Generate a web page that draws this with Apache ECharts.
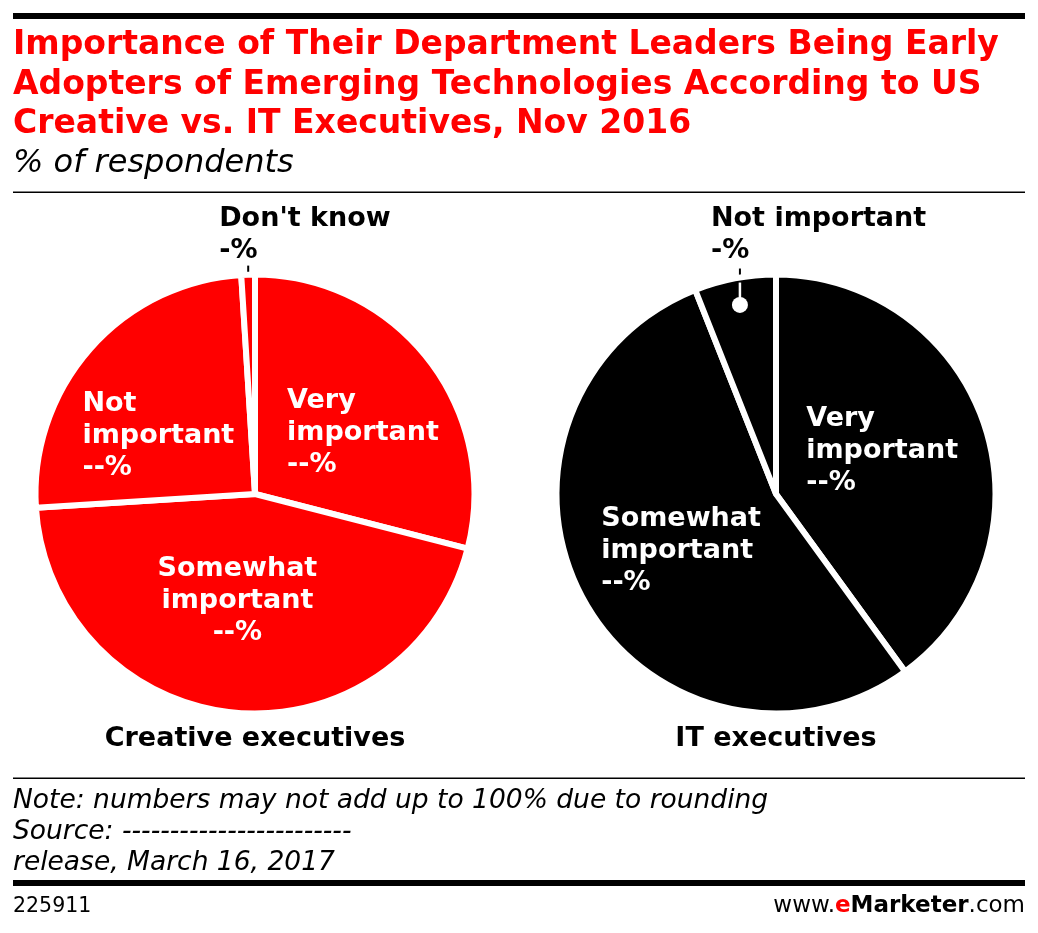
<!DOCTYPE html>
<html><head><meta charset="utf-8">
<script src="https://cdn.jsdelivr.net/npm/echarts@6/dist/echarts.min.js"></script>
<style>html,body{margin:0;padding:0;background:#fff}#c{width:1038px;height:933px}</style>
</head><body><div id="c"></div>
<script>
// ---- data ----
const categoriesCreative = ['Very important', 'Somewhat important', 'Not important', "Don't know"];
const valuesCreative = [29, 45, 25, 1];
const pctCreative = ['--%', '--%', '--%', '-%'];
const categoriesIT = ['Very important', 'Somewhat important', 'Not important'];
const valuesIT = [40, 54, 6];
const pctIT = ['--%', '--%', '-%'];
const seriesNames = ['Creative executives', 'IT executives'];
const titleLines = ['Importance of Their Department Leaders Being Early', 'Adopters of Emerging Technologies According to US', 'Creative vs. IT Executives, Nov 2016'];
const subtitleText = '% of respondents';
const noteLines = ['Note: numbers may not add up to 100% due to rounding', 'Source: ------------------------', 'release, March 16, 2017'];
const chartId = '225911';

// ---- layout / style ----
const RED = '#ff0000';
const CX = [255, 776], CY = 494, R = 219.5, VIS_R = R - 3;
const SMALL = 10; // slices below this value get an outside label
const hasDot = [false, true];
const outsideTweak = [[4, -43], [1, -46]]; // [leader start shift, label y shift] per pie
const insideOffsets = [
  [[-57, 8, 'left'], [-7, -5, 'center'], [-88, 17, 'left']],
  [[-77, -8, 'left'], [-76, 3, 'left']]
];
const LBL_FONT = 'DejaVu Sans';

function midAngle(vals, i) {
  const tot = vals.reduce((a, b) => a + b, 0);
  let s = 0; for (let k = 0; k < i; k++) s += vals[k];
  return (s + vals[i] / 2) / tot * 2 * Math.PI;
}
const allVals = [valuesCreative, valuesIT];
const allPct = [pctCreative, pctIT];
const allCats = [categoriesCreative, categoriesIT];

function outsideGeom(s, i) {
  const a = midAngle(allVals[s], i);
  const cx = CX[s];
  let lx, dotY = null;
  if (hasDot[s]) {
    const rd = VIS_R - 24;
    lx = cx + rd * Math.sin(a);
    dotY = CY - rd * Math.cos(a);
  } else {
    lx = cx + VIS_R * Math.sin(a);
  }
  const edgeY = CY - Math.sqrt(VIS_R * VIS_R - (lx - cx) * (lx - cx));
  return { lx, dotY, edgeY };
}

function buildData(s) {
  return allCats[s].map((name, i) => {
    const small = allVals[s][i] < SMALL;
    const item = { name, value: allVals[s][i] };
    if (small) {
      item.label = {
        position: 'outside', color: '#000',
        formatter: name + '\n' + allPct[s][i]
      };
      item.labelLine = { show: true, length: 10, length2: 0, lineStyle: { color: '#000', width: 2 } };
    } else {
      item.label = { formatter: name.replace(' ', '\n') + '\n' + allPct[s][i] };
    }
    return item;
  });
}

function labelLayout(p) {
  const s = p.seriesIndex, i = p.dataIndex;
  if (allVals[s][i] < SMALL) {
    const g = outsideGeom(s, i);
    const t = outsideTweak[s];
    return {
      x: g.lx - 29, y: g.edgeY + t[1], align: 'left', verticalAlign: 'middle',
      labelLinePoints: [[g.lx, g.edgeY + t[0]], [g.lx, g.edgeY - 12]]
    };
  }
  const o = insideOffsets[s][i];
  return { dx: o[0], dy: o[1], align: o[2], verticalAlign: 'middle' };
}

function pieSeries(s) {
  return {
    type: 'pie', name: seriesNames[s], center: [CX[s], CY], radius: R,
    startAngle: 90, clockwise: true, avoidLabelOverlap: false, silent: true,
    itemStyle: { color: s === 0 ? RED : '#000', borderColor: '#fff', borderWidth: 6 },
    label: {
      show: true, position: 'inside', color: '#fff', fontFamily: LBL_FONT,
      fontWeight: 'bold', fontSize: 27, lineHeight: 32
    },
    labelLine: { show: false },
    labelLayout: labelLayout,
    emphasis: { disabled: true },
    data: buildData(s)
  };
}

// leader continuation inside the pie + dot
const extraGraphics = [];
allVals.forEach((vals, s) => {
  vals.forEach((v, i) => {
    if (v < SMALL && hasDot[s]) {
      const g = outsideGeom(s, i);
      extraGraphics.push({ type: 'line', shape: { x1: g.lx, y1: g.dotY, x2: g.lx, y2: g.edgeY + 2 }, style: { stroke: '#fff', lineWidth: 2.5 }, z: 100 });
      extraGraphics.push({ type: 'circle', shape: { cx: g.lx, cy: g.dotY, r: 8 }, style: { fill: '#fff' }, z: 100 });
    }
  });
});

const chart = echarts.init(document.getElementById('c'));
chart.setOption({
  backgroundColor: '#fff',
  animation: false,
  title: [
    { text: titleLines.join('\n'), left: 13, top: 26, padding: 0,
      textStyle: { color: RED, fontFamily: 'DejaVu Sans', fontWeight: 'bold', fontSize: 33, lineHeight: 39.5 } },
    { text: subtitleText, left: 13, top: 148, padding: 0,
      textStyle: { color: '#000', fontFamily: 'DejaVu Sans', fontStyle: 'italic', fontWeight: 'normal', fontSize: 32, lineHeight: 32 } },
    { text: seriesNames[0], left: CX[0], top: 723, textAlign: 'center', padding: 0,
      textStyle: { color: '#000', fontFamily: LBL_FONT, fontWeight: 'bold', fontSize: 27, lineHeight: 32 } },
    { text: seriesNames[1], left: CX[1], top: 723, textAlign: 'center', padding: 0,
      textStyle: { color: '#000', fontFamily: LBL_FONT, fontWeight: 'bold', fontSize: 27, lineHeight: 32 } },
    { text: noteLines.join('\n'), left: 13, top: 786, padding: 0,
      textStyle: { color: '#000', fontFamily: 'DejaVu Sans', fontStyle: 'italic', fontWeight: 'normal', fontSize: 26.5, lineHeight: 31 } },
    { text: chartId, left: 13, top: 895, padding: 0,
      textStyle: { color: '#000', fontFamily: 'DejaVu Sans', fontWeight: 'normal', fontSize: 20.5, lineHeight: 24 } },
    { text: 'www.{e|e}{m|Marketer}.com', right: 13, top: 894, padding: 0,
      textStyle: { color: '#000', fontFamily: 'DejaVu Sans', fontWeight: 'normal', fontSize: 23, lineHeight: 24,
        rich: { e: { color: RED, fontWeight: 'bold', fontFamily: 'DejaVu Sans', fontSize: 23 },
                m: { color: '#000', fontWeight: 'bold', fontFamily: 'DejaVu Sans', fontSize: 23 } } } }
  ],
  graphic: [
    { type: 'rect', shape: { x: 13, y: 13, width: 1012, height: 6 }, style: { fill: '#000' } },
    { type: 'rect', shape: { x: 13, y: 191.5, width: 1012, height: 1.5 }, style: { fill: '#000' } },
    { type: 'rect', shape: { x: 13, y: 777.5, width: 1012, height: 1.5 }, style: { fill: '#000' } },
    { type: 'rect', shape: { x: 13, y: 880, width: 1012, height: 6 }, style: { fill: '#000' } }
  ].concat(extraGraphics),
  series: [pieSeries(0), pieSeries(1)]
});
</script></body></html>
